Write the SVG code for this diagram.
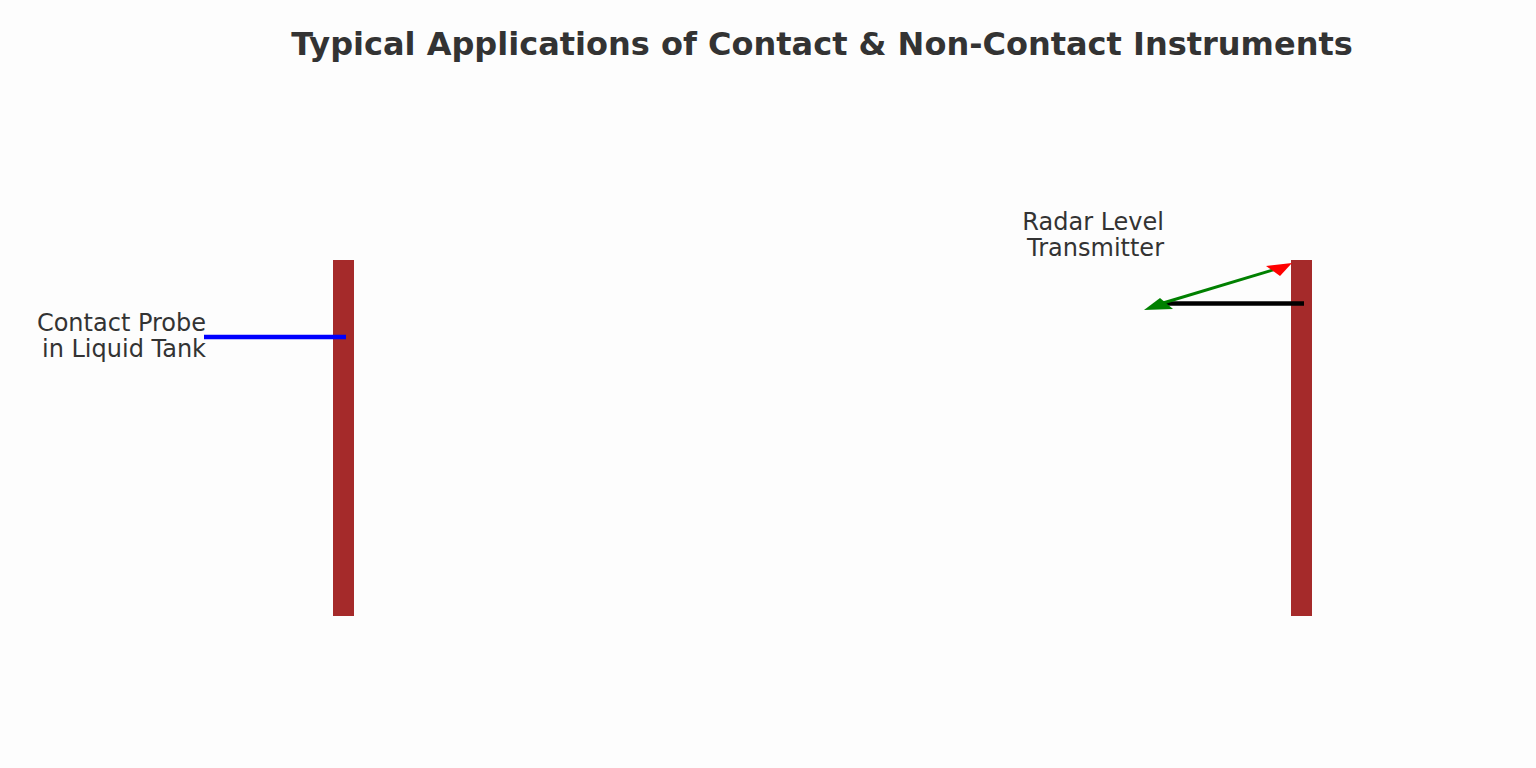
<svg xmlns="http://www.w3.org/2000/svg" width="1536" height="768" viewBox="0 0 1536 768">
<style>
.title{font-family:"DejaVu Sans",sans-serif;font-weight:bold;font-size:32px;fill:#333333;text-anchor:middle}
.lbl{font-family:"DejaVu Sans",sans-serif;font-size:24px;fill:#333333;text-anchor:end}
.tank{fill:#a52a2a}
</style>
<rect width="1536" height="768" fill="#fdfdfd"/>
<text class="title" x="822" y="55">Typical Applications of Contact &amp; Non-Contact Instruments</text>
<g id="tank-left"><rect class="tank" x="333" y="260" width="21" height="356"/></g>
<g id="tank-right"><rect class="tank" x="1291" y="260" width="21" height="356"/></g>
<g id="contact-probe">
<text class="lbl" x="206" y="331">Contact Probe</text>
<text class="lbl" x="206" y="357">in Liquid Tank</text>
</g>
<g id="radar">
<text class="lbl" x="1164" y="230">Radar Level</text>
<text class="lbl" x="1164" y="256">Transmitter</text>
</g>
<g id="connectors">
<line x1="204" y1="337" x2="346" y2="337" stroke="#0000ff" stroke-width="4.5"/>
<line x1="1163" y1="303.5" x2="1304" y2="303.5" stroke="#000000" stroke-width="4.5"/>
<line x1="1163" y1="303" x2="1276" y2="269" stroke="#008000" stroke-width="3"/>
<polygon points="1292,263 1266,266 1280,276" fill="#ff0000"/>
<polygon points="1144,310 1160,298 1173,309" fill="#008000"/>
</g>
</svg>
